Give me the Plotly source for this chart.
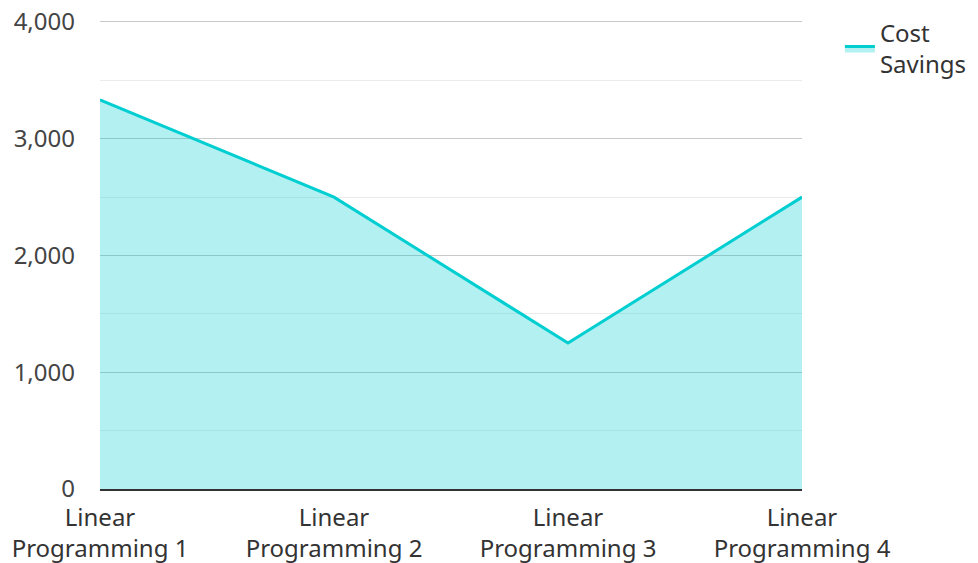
import plotly.graph_objects as go

categories = ["Linear<br>Programming 1", "Linear<br>Programming 2", "Linear<br>Programming 3", "Linear<br>Programming 4"]
cost_savings = [3333, 2500, 1250, 2500]
series_name = "Cost<br>Savings"

fig = go.Figure()
fig.add_trace(go.Scatter(
    x=categories, y=cost_savings, name=series_name,
    mode="lines", fill="tozeroy",
    line=dict(color="#00CED1", width=3),
    fillcolor="rgba(0,206,209,0.3)",
))

# page body has an 8px margin, so margins are shifted by 8px
fig.update_layout(
    width=970, height=555,
    margin=dict(l=92, r=176, t=12, b=74, autoexpand=False),
    paper_bgcolor="white", plot_bgcolor="white",
    font=dict(family="Noto Sans", size=24, color="#444"),
    showlegend=True,
    legend=dict(x=1.054, y=1.0196, xanchor="left", yanchor="top",
                orientation="h", entrywidth=100, entrywidthmode="pixels",
                font=dict(size=24, color="#333"), bgcolor="rgba(0,0,0,0)"),
    xaxis=dict(type="category", range=[0, 3], showgrid=False, automargin=False,
               showline=True, linecolor="#333", linewidth=2,
               ticks="", ticklabelstandoff=6, tickfont=dict(size=24, color="#333")),
    yaxis=dict(range=[0, 4017], tickvals=[0, 1000, 2000, 3000, 4000], tickformat=",",
               automargin=False, ticklabeloverflow="allow",
               showgrid=True, gridcolor="#c8c8c8", gridwidth=1,
               zeroline=False, showline=False, ticks="",
               ticklabelstandoff=24,
               tickfont=dict(size=24, color="#444"),
               minor=dict(tickvals=[500, 1500, 2500, 3500], showgrid=True,
                          gridcolor="#ebebeb", gridwidth=1)),
)

fig.write_html("out.html")
